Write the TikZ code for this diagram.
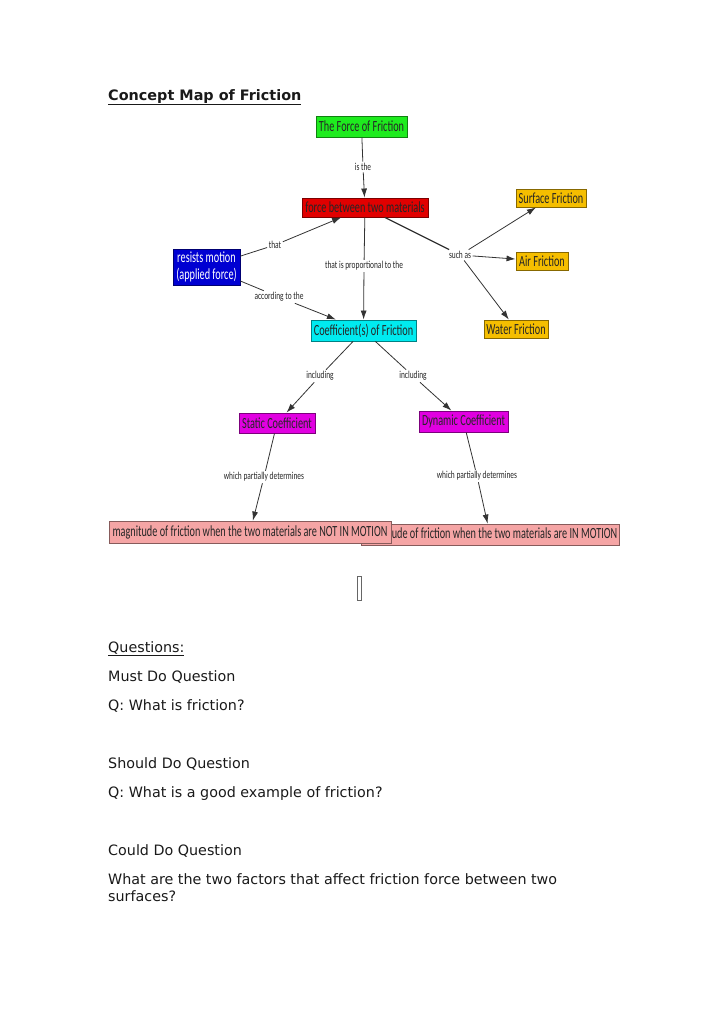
\documentclass[tikz,border=0pt]{standalone}
\usepackage{fontspec}
\setmainfont{DejaVu Sans}
\newfontfamily\cmf[FakeStretch=0.66]{Carlito}
\newfontfamily\cml[FakeStretch=0.70]{Carlito}
\usetikzlibrary{arrows.meta}
\definecolor{cgreen}{RGB}{30,235,30}
\definecolor{cred}{RGB}{225,0,0}
\definecolor{cgold}{RGB}{245,190,0}
\definecolor{cblue}{RGB}{0,0,210}
\definecolor{ccyan}{RGB}{0,235,240}
\definecolor{cmag}{RGB}{225,0,225}
\definecolor{cpink}{RGB}{245,165,165}
\tikzset{
  concept/.style={draw=#1!55!black, fill=#1, line width=0.9pt, inner xsep=1pt, inner ysep=0pt,
    minimum height=20pt, text=black!85, font=\cmf\fontsize{15.5}{16}\selectfont},
  lbl/.style={inner sep=1.5pt, font=\cml\fontsize{10.6}{11}\selectfont, text=black!85},
  link/.style={draw=black!80, line width=0.8pt},
  arr/.style={link, -{Latex[length=9pt,width=6pt]}},
  body/.style={anchor=base west, inner sep=0pt, font=\fontsize{14.3}{17}\selectfont, text=black!90}
}
\begin{document}
\begin{tikzpicture}[x=1pt,y=-1pt]
\useasboundingbox (0,0) rectangle (719,1017);
% title
\node[body, font=\bfseries\fontsize{14.4}{17}\selectfont] (title) at (108,100) {\underline{Concept Map of Friction}};
% concepts
\node[concept=cgreen, minimum width=91pt, minimum height=21pt] (green) at (361.5,126.5) {The Force of Friction};
\node[concept=cred, minimum width=126pt, minimum height=19pt] (red) at (365,207.5) {force between two materials};
\node[concept=cgold, minimum width=70pt, minimum height=18pt] (surface) at (551,198) {Surface Friction};
\node[concept=cgold, minimum width=52pt, minimum height=18pt] (air) at (542,261) {Air Friction};
\node[concept=cgold, minimum width=64pt, minimum height=18pt] (water) at (516,329) {Water Friction};
\node[concept=cblue, minimum width=67pt, minimum height=36pt, align=center, text=white, font=\cmf\fontsize{15.5}{16.5}\selectfont] (blue) at (206.5,267) {resists motion\\(applied force)};
\node[concept=ccyan, minimum width=105pt, minimum height=21pt] (coeff) at (363.5,330.5) {Coefficient(s) of Friction};
\node[concept=cmag, minimum width=76pt, minimum height=20pt] (static) at (277,423) {Static Coefficient};
\node[concept=cmag, minimum width=89pt, minimum height=21pt] (dynamic) at (463.5,421.5) {Dynamic Coefficient};
\node[concept=cpink, minimum width=258pt, minimum height=21pt] (pinkR) at (490,534.5) {magnitude of friction when the two materials are IN MOTION};
\node[concept=cpink, minimum width=282pt, minimum height=22pt] (pinkL) at (250,532) {magnitude of friction when the two materials are NOT IN MOTION};
% labels
\node[lbl] (isthe) at (363,167) {is the};
\node[lbl] (that) at (275,245) {that};
\node[lbl] (prop) at (364,266) {that is proportional to the};
\node[lbl] (such) at (460,255) {such as};
\node[lbl] (according) at (279,297) {according to the};
\node[lbl] (incl1) at (320,376) {including};
\node[lbl] (incl2) at (413,376) {including};
\node[lbl] (wpd1) at (264,477) {which partially determines};
\node[lbl] (wpd2) at (477,476) {which partially determines};
% connectors
\draw[link] (green) -- (isthe);
\draw[arr] (isthe) -- (red);
\draw[link] (blue) -- (that);
\draw[arr] (that) -- (red);
\draw[link] (red) -- (prop);
\draw[arr] (prop) -- (coeff);
\draw[link, line width=1.3pt] (red) -- (such);
\draw[arr] (such) -- (surface);
\draw[arr] (such) -- (air);
\draw[arr] (such) -- (water);
\draw[link] (blue) -- (according);
\draw[arr] (according) -- (coeff);
\draw[link] (coeff) -- (incl1);
\draw[arr] (incl1) -- (static);
\draw[link] (coeff) -- (incl2);
\draw[arr] (incl2) -- (dynamic);
\draw[link] (static) -- (wpd1);
\draw[arr] (wpd1) -- (pinkL);
\draw[link] (dynamic) -- (wpd2);
\draw[arr] (wpd2) -- (pinkR);
% missing glyph box
\draw[black!60, line width=0.8pt] (357,576) rectangle (361,600);
% questions
\node[body] (q0) at (108,652) {\underline{Questions:}};
\node[body] (q1) at (108,681) {Must Do Question};
\node[body] (q2) at (108,710) {Q: What is friction?};
\node[body] (q3) at (108,768) {Should Do Question};
\node[body] (q4) at (108,797) {Q: What is a good example of friction?};
\node[body] (q5) at (108,855) {Could Do Question};
\node[body] (q6) at (108,884) {What are the two factors that affect friction force between two};
\node[body] (q7) at (108,901) {surfaces?};
\end{tikzpicture}
\end{document}
